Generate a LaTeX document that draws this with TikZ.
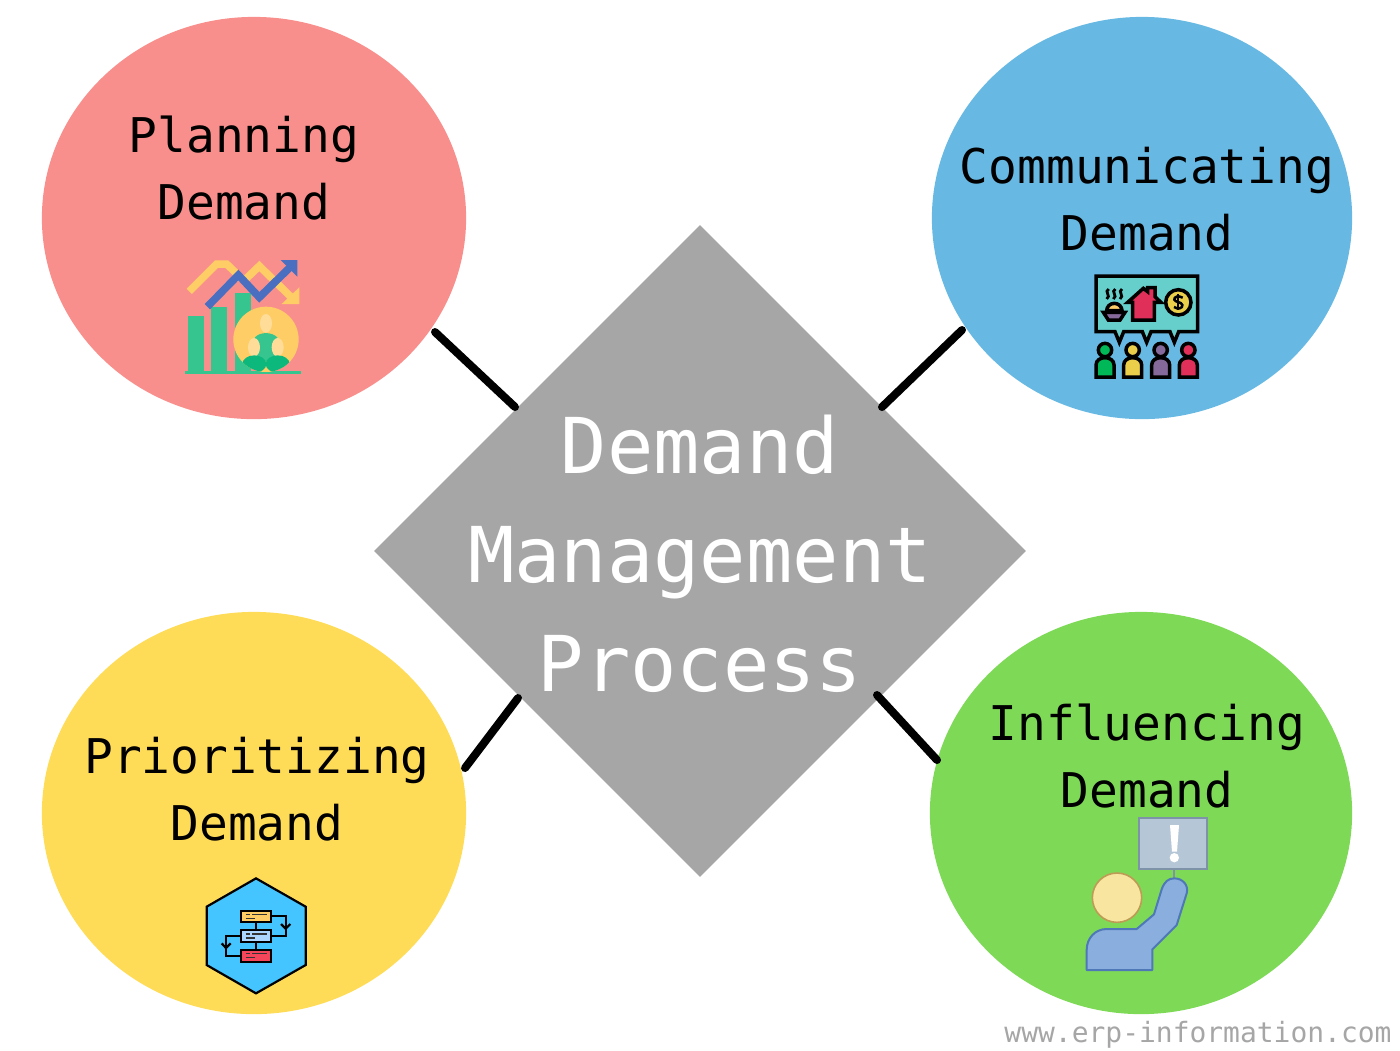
\documentclass[tikz,border=0pt]{standalone}
\usepackage{fontspec}
\setmonofont{DejaVu Sans Mono}
\usepackage{tikz}
\usetikzlibrary{shapes.geometric}
\definecolor{pinkc}{HTML}{F98F8C}
\definecolor{bluec}{HTML}{67B9E3}
\definecolor{yellowc}{HTML}{FFDC58}
\definecolor{greenc}{HTML}{7ED957}
\definecolor{grayc}{HTML}{A6A6A6}
\definecolor{barc}{HTML}{36C48F}
\definecolor{legc}{HTML}{0DB87C}
\definecolor{goldc}{HTML}{FFCD66}
\definecolor{skinc}{HTML}{FFDD99}
\definecolor{trendc}{HTML}{4A6FC0}
\definecolor{redc}{HTML}{E0305A}
\definecolor{coinc}{HTML}{EBCF4A}
\definecolor{purplec}{HTML}{85699A}
\definecolor{screenc}{HTML}{66CFCB}
\definecolor{peoplec}{HTML}{00B857}
\definecolor{hexc}{HTML}{45C5FF}
\definecolor{boxc}{HTML}{ABD6FF}
\definecolor{alertc}{HTML}{F5455A}
\definecolor{signc}{HTML}{B5C7D6}
\definecolor{signl}{HTML}{7F93A8}
\definecolor{headc}{HTML}{F8E5A0}
\definecolor{headl}{HTML}{BE9C55}
\definecolor{bodyc}{HTML}{8AAEDD}
\definecolor{bodyl}{HTML}{4E78B8}
\tikzset{
	blob/.style={ellipse, minimum width=4.24cm, minimum height=4.02cm, inner sep=0pt},
	blobtext/.style={font=\ttfamily\fontsize{13.6}{18.9}\selectfont, align=center, text=black, inner sep=0pt},
	link/.style={line width=.08cm, line cap=round},
	icon/.style={scale=1/3},
	ink/.style={draw=black, line width=.035cm, line join=miter},
	flow/.style={draw=black, line width=.022cm}
}

\begin{document}
\begin{tikzpicture}[x=.01cm, y=-.01cm]

		\useasboundingbox (0,0) rectangle (1400,1050);

		\node [diamond, fill=grayc, minimum width=6.52cm, minimum height=6.52cm, inner sep=0pt] (M) at (700,551) {};
		\node [blob, fill=pinkc] (P) at (254,218) {};
		\node [blob, fill=bluec, minimum width=4.2cm] (C) at (1142,218) {};
		\node [blob, fill=yellowc] (R) at (254,813) {};
		\node [blob, fill=greenc, minimum width=4.22cm] (I) at (1141,813) {};

		\coordinate (P1) at (435,332);
		\coordinate (P2) at (515,407);
		\coordinate (C1) at (962,330);
		\coordinate (C2) at (882,407);
		\coordinate (R1) at (465,768);
		\coordinate (R2) at (518,698);
		\coordinate (I1) at (937,760);
		\coordinate (I2) at (877,695);
		\draw [link] (P1)--(P2);
		\draw [link] (C1)--(C2);
		\draw [link] (R1)--(R2);
		\draw [link] (I1)--(I2);

		\node [font=\ttfamily\fontsize{21.9}{31}\selectfont, align=center, text=white, inner sep=0pt] (MT) at (700,554) {Demand\\Management\\Process};
		\node [blobtext] (PT) at (244,168) {Planning\\Demand};
		\node [blobtext] (CT) at (1147,199) {Communicating\\Demand};
		\node [blobtext] (RT) at (257,789) {Prioritizing\\Demand};
		\node [blobtext] (IT) at (1147,756) {Influencing\\Demand};
		\node [font=\ttfamily\fontsize{7.95}{10}\selectfont, text=grayc, inner sep=0pt] (W) at (1198,1035) {www.erp-information.com};

		% planning icon
		\begin{scope}[shift={(170,250)}, icon]
			\draw [goldc, line width=.075cm, line join=miter] (58,124)--(140,42)--(170,42)--(222,92)--(268,48)--(362,140);
			\fill [goldc] (388,112)--(388,162)--(335,162)--cycle;
			\fill [barc] (54,198) rectangle (102,362);
			\fill [barc] (124,170) rectangle (172,362);
			\fill [barc] (195,130) rectangle (242,362);
			\fill [barc] (44,362) rectangle (392,373);
			\draw [trendc, line width=.075cm, line join=miter] (112,170)--(205,75)--(268,142)--(362,50);
			\fill [trendc] (332,30)--(382,30)--(382,80)--cycle;
			\fill [goldc] (288,268) circle [radius=98];
			\begin{scope}
				\clip (288,268) circle [radius=98];
				\fill [barc] (255,262) .. controls (270,245) and (305,245) .. (322,262)--(330,310)--(288,335)--(246,310)--cycle;
				\fill [skinc] (288,220) circle [x radius=18, y radius=28];
				\fill [skinc] (252,292) circle [x radius=18, y radius=28];
				\fill [skinc] (323,292) circle [x radius=18, y radius=28];
				\fill [legc] (253,342) circle [x radius=36, y radius=26];
				\fill [legc] (323,342) circle [x radius=36, y radius=26];
			\end{scope}
		\end{scope}

		% communicating icon
		\begin{scope}[shift={(1085,265)}, icon]
			\draw [ink, fill=screenc] (33,33)--(338,33)--(338,200)--(281,200)--(268,232)--(255,200)--(198,200)--(185,232)--(172,200)--(116,200)--(103,232)--(90,200)--(33,200)--cycle;
			\foreach \x in {68,88,108}
				\draw [black, line width=.028cm] (\x+3,72) .. controls (\x-12,80) and (\x+12,92) .. (\x-3,102);
			\draw [ink, fill=goldc] (65,137) arc [start angle=180, end angle=360, x radius=23, y radius=22]--cycle;
			\draw [ink, fill=purplec] (55,142)--(120,142)--(105,165)--(70,165)--cycle;
			\draw [ink, fill=redc] (128,112)--(175,70)--(188,80)--(188,68)--(210,68)--(210,95)--(228,112)--(208,112)--(208,165)--(143,165)--(143,112)--cycle;
			\draw [ink, fill=coinc] (280,112) circle [radius=38];
			\draw [black, line width=.025cm] (293,98) .. controls (280,90) and (266,96) .. (268,104) .. controls (270,112) and (290,110) .. (292,120) .. controls (294,130) and (278,134) .. (267,126);
			\draw [black, line width=.02cm] (280,88)--(280,136);
			\foreach \x/\c in {60/peoplec, 143/coinc, 227/purplec, 310/redc}{
				\draw [ink, fill=\c] (\x,255) circle [radius=20];
				\draw [ink, fill=\c] (\x-27,336)--(\x-27,300) .. controls (\x-27,286) and (\x-14,278) .. (\x,278) .. controls (\x+14,278) and (\x+27,286) .. (\x+27,300)--(\x+27,336)--cycle;
			}
		\end{scope}

		% prioritizing icon
		\begin{scope}[shift={(195,870)}, icon]
			\draw [flow, fill=hexc] (183,25)--(332,110)--(332,285)--(183,370)--(35,285)--(35,110)--cycle;
			\draw [flow] (183,157)--(183,181);
			\draw [flow] (183,216)--(183,240);
			\draw [flow] (229,138)--(272,138)--(272,198)--(229,198);
			\draw [flow] (258,162)--(272,176)--(286,162);
			\draw [flow] (137,198)--(93,198)--(93,257)--(137,257);
			\draw [flow] (80,220)--(93,234)--(107,220);
			\foreach \y/\c in {122/goldc, 181/boxc, 240/alertc}{
				\draw [flow, fill=\c] (137,\y) rectangle (229,\y+35);
				\draw [black!80, line width=.013cm] (152,\y+11)--(165,\y+11);
				\draw [black!80, line width=.013cm] (172,\y+11)--(215,\y+11);
				\draw [black!80, line width=.013cm] (152,\y+23)--(180,\y+23);
			}
		\end{scope}

		% influencing icon
		\begin{scope}[shift={(1075,810)}, icon]
			\draw [signl, line width=.02cm] (298,178)--(298,205);
			\draw [draw=signl, fill=signc, line width=.02cm] (193,25) rectangle (397,178);
			\fill [white] (285,45)--(312,45)--(306,125)--(291,125)--cycle;
			\fill [white] (298,143) circle [radius=14];
			\draw [draw=headl, fill=headc, line width=.016cm] (126,263) circle [radius=74];
			\draw [draw=bodyl, fill=bodyc, line width=.02cm, line join=round] (35,480)--(35,420) .. controls (35,385) and (60,357) .. (95,357)--(185,357)--(237,313)--(260,238) .. controls (268,215) and (280,205) .. (298,205) .. controls (322,205) and (342,225) .. (335,250)--(305,345)--(232,418)--(232,480)--cycle;
		\end{scope}

		\end{tikzpicture}
\end{document}
